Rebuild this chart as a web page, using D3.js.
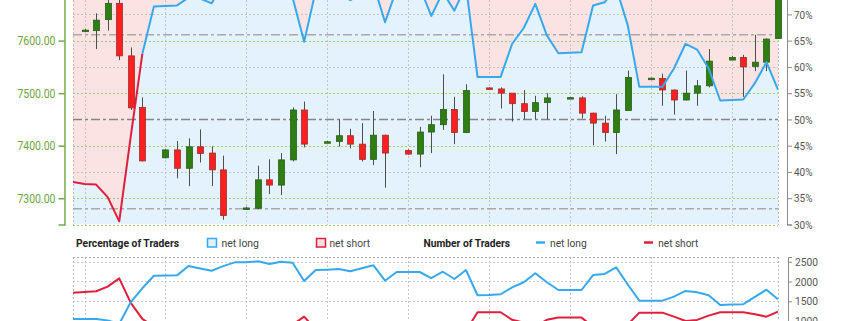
<!DOCTYPE html>
<html><head><meta charset="utf-8">
<script src="https://cdn.jsdelivr.net/npm/d3@7"></script>
<style>html,body{margin:0;padding:0;background:#fff;overflow:hidden}svg{display:block}</style>
</head><body><svg id="c" width="845" height="321"></svg>
<script>
// ---------- data (one entry per daily slot, null = no candle) ----------
const slots = d3.range(62);
const candleOpen  = [null,7619,7619,7640,7671,7571,7473,null,7377,7392,7357,7398,7386,7354,null,7281,7281,7335,7325,7373,7468,null,7407,7408,7419,7403,7374,7420,null,7391,7384,7426,7440,7469,7425,null,7510,7508,7500,7480,7465,7482,null,7491,7491,7462,7443,7425,7467,null,7528,7528,7506,7487,7500,7514,null,7563,7568,7551,7559,7604];
const candleHigh  = [null,7622,7652,7685,7690,7587,7492,null,7393,7409,7414,7431,7399,7381,null,7284,7362,7374,7386,7473,7484,null,7409,7450,7432,7443,7466,7421,null,7393,7436,7457,7536,7493,7517,null,7511,7511,7500,7506,7495,7500,null,7492,7494,7463,7457,7498,7543,null,7529.5,7537,7507,7543,7525,7584,null,7571,7573,7611,7604,7720];
const candleLow   = [null,7617,7584,7619,7563,7468,7370,null,7376,7338,7323,7368,7323,7259,null,7278,7279,7308,7306,7370,7397,null,7405,7398,7395,7370,7363,7320,null,7383,7359,7386,7430,7403,7424,null,7507,7471,7446,7450,7450,7450,null,7490,7452,7401,7408,7384,7466,null,7527,7476,7459,7486,7476,7511,null,7563,7493,7542,7542,7603];
const candleClose = [null,7620,7639,7671,7571,7472,7371,null,7392,7357,7398,7385,7354,7267,null,7281.5,7335,7325,7373,7468,7403,null,7407.5,7419,7403,7374,7420,7386,null,7384,7426,7440,7469,7425,7505,null,7508,7500,7480,7465,7482,7491,null,7491.5,7462,7443,7425,7468,7530,null,7528.5,7506,7487,7500,7514,7561,null,7568,7550,7559,7603,7700];

// percentage of traders net long (top line)
const netLongPct = [38.1,37.7,37.6,35.2,30.6,46.8,62.5,71.5,71.6,71.7,73.2,73.0,72.1,76.0,75.5,75.5,76.0,75.0,76.0,73.2,64.8,74.5,74.0,74.0,72.7,74.0,75.7,68.5,74.8,73.5,75.2,69.7,74.2,70.7,75.5,58.1,58.1,58.1,64.4,67.4,72.0,66.0,62.6,62.7,62.8,71.7,72.3,75.1,67.9,56.2,56.2,56.2,59.7,64.4,63.3,59.7,53.6,53.7,53.8,56.9,60.9,55.7];
const redSegmentsUntil = 6; // line drawn red up to this slot

// number of traders
const longCount  = [1053,1050,1050,1015,926,1480,1828,2146,2150,2155,2391,2330,2273,2390,2485,2485,2510,2442,2500,2475,2013,2290,2300,2316,2258,2335,2409,2020,2240,2240,2240,2088,2247,2063,2290,1651,1660,1677,1853,1980,2207,1980,1785,1785,1785,2164,2190,2358,1925,1515,1515,1515,1616,1760,1727,1651,1407,1415,1425,1610,1793,1550];
const shortCount = [1717,1735,1752,1869,2080,1460,1053,855,853,850,885,862,880,755,806,806,793,814,790,906,1110,784,808,814,848,820,773,929,755,808,739,908,780,855,743,1222,1222,1222,1030,958,858,1030,1086,1086,1086,854,839,782,910,1212,1212,1212,1110,1000,1028,1136,1222,1222,1222,1172,1110,1237];

const priceTicks = [7300,7400,7500,7600];
const priceGrid  = [7250,7300,7400,7500,7600,7700];
const pctTicks   = [30,35,40,45,50,55,60,65,70];
const pctGrid    = [40,60,70,80];
const levelLines = [7611,7280];
const weekSlots  = [1,8,15,22,29,36,43,50,57];
const countTicks = [1000,1500,2000,2500];

// ---------- layout ----------
const svg = d3.select('#c');
const X0 = 73, X1 = 778;
const x = d3.scaleLinear().domain([0,61]).range([X0,X1]);
const yP = d3.scaleLinear().domain([7250,7750]).range([224.5,-38.17]);
const yPct = d3.scaleLinear().domain([30,80]).range([224.5,-38.17]);
const yN = d3.scaleLinear().domain([1000,2620]).range([321,257]);
const FONT = 'Roboto, "Liberation Sans", sans-serif';

const defs = svg.append('defs');
defs.append('clipPath').attr('id','clipTop').append('rect').attr('x',X0).attr('y',-80).attr('width',X1-X0).attr('height',224.5+80);
defs.append('clipPath').attr('id','clipBot').append('rect').attr('x',X0).attr('y',257).attr('width',X1-X0).attr('height',200);

// ---------- top panel ----------
const topG = svg.append('g');
const pctPts = slots.map(i=>({i, v:netLongPct[i]}));
topG.append('path').datum(pctPts)
  .attr('d', d3.area().x(d=>x(d.i)).y0(-80).y1(d=>yPct(d.v)))
  .attr('fill','#fce3e3').attr('clip-path','url(#clipTop)');
topG.append('path').datum(pctPts)
  .attr('d', d3.area().x(d=>x(d.i)).y0(224.5).y1(d=>yPct(d.v)))
  .attr('fill','#e3f2fc').attr('clip-path','url(#clipTop)');

const grid = topG.append('g').attr('shape-rendering','crispEdges');
grid.selectAll('.vg').data(weekSlots).join('line')
  .attr('x1',d=>Math.round(x(d))+0.5).attr('x2',d=>Math.round(x(d))+0.5)
  .attr('y1',-80).attr('y2',224.5)
  .attr('stroke','#c4c4c4').attr('stroke-dasharray','2,2');
grid.selectAll('.bd').data([X0,X1]).join('line')
  .attr('x1',d=>d+0.5).attr('x2',d=>d+0.5).attr('y1',-80).attr('y2',224.5)
  .attr('stroke','#bdbdbd').attr('stroke-dasharray','2,2');
grid.selectAll('.pg').data(pctGrid).join('line')
  .attr('x1',X0).attr('x2',X1).attr('y1',d=>Math.round(yPct(d))+0.5).attr('y2',d=>Math.round(yPct(d))+0.5)
  .attr('stroke','#c4c4c4').attr('stroke-dasharray','2,2');
grid.selectAll('.gg').data(priceGrid).join('line')
  .attr('x1',X0).attr('x2',X1).attr('y1',d=>Math.round(yP(d))+0.5).attr('y2',d=>Math.round(yP(d))+0.5)
  .attr('stroke','#9fcd7f').attr('stroke-dasharray','2,2');
topG.selectAll('.lv').data(levelLines).join('line')
  .attr('x1',X0).attr('x2',X1).attr('y1',d=>yP(d)).attr('y2',d=>yP(d))
  .attr('stroke','#a9a9a9').attr('stroke-width',1.5).attr('stroke-dasharray','9,3,3,3');
topG.append('line').attr('x1',X0).attr('x2',X1).attr('y1',yPct(50)).attr('y2',yPct(50))
  .attr('stroke','#858585').attr('stroke-width',1.6).attr('stroke-dasharray','9,3,3,3');

// candles
const cdata = slots.filter(i=>candleOpen[i]!=null).map(i=>({i,o:candleOpen[i],h:candleHigh[i],l:candleLow[i],c:candleClose[i]}));
const cg = topG.append('g');
cg.selectAll('.wick').data(cdata).join('line')
  .attr('x1',d=>Math.round(x(d.i))+0.5).attr('x2',d=>Math.round(x(d.i))+0.5)
  .attr('y1',d=>yP(d.h)).attr('y2',d=>yP(d.l))
  .attr('stroke','#4d4d4d').attr('stroke-width',1);
cg.selectAll('.body').data(cdata).join('rect')
  .attr('x',d=>Math.round(x(d.i))-2.5).attr('width',6)
  .attr('y',d=>yP(Math.max(d.o,d.c)))
  .attr('height',d=>Math.max(1.5, Math.abs(yP(d.o)-yP(d.c))))
  .attr('fill',d=>d.c>=d.o?'#2f7e14':'#ff1f1f')
  .attr('stroke',d=>d.c>=d.o?'#2a5f18':'#9a3030').attr('stroke-width',0.8);

// sentiment line
const line = d3.line().x(d=>x(d.i)).y(d=>yPct(d.v));
topG.append('path').datum(pctPts.slice(redSegmentsUntil))
  .attr('d',line).attr('fill','none').attr('stroke','#36a9ee').attr('stroke-width',2)
  .attr('stroke-linejoin','round').attr('clip-path','url(#clipTop)');
topG.append('path').datum(pctPts.slice(0,redSegmentsUntil+1))
  .attr('d',line).attr('fill','none').attr('stroke','#df1f3c').attr('stroke-width',2)
  .attr('stroke-linejoin','round').attr('clip-path','url(#clipTop)');

// axes
const la = svg.append('g').attr('transform','translate(64.5,0)')
  .call(d3.axisLeft(yP).tickValues(priceTicks).tickFormat(d=>d.toFixed(2)).tickSize(6).tickSizeOuter(6).tickPadding(3));
la.select('.domain').attr('stroke','#72aa48').attr('stroke-width',1.5);
la.selectAll('.tick line').attr('stroke','#72aa48').attr('stroke-width',1.5);
la.selectAll('.tick text').attr('fill','#6ea544').attr('font-family',FONT).attr('font-size',12.5)
  .attr('textLength',38).attr('lengthAdjust','spacingAndGlyphs');

const ra = svg.append('g').attr('transform','translate(787,0)')
  .call(d3.axisRight(yPct).tickValues(pctTicks).tickFormat(d=>d+'%').tickSize(5).tickSizeOuter(5).tickPadding(2));
ra.select('.domain').attr('stroke','#8a8a8a');
ra.selectAll('.tick line').attr('stroke','#8a8a8a');
ra.selectAll('.tick text').attr('fill','#555').attr('font-family',FONT).attr('font-size',11.5)
  .attr('textLength',18.5).attr('lengthAdjust','spacingAndGlyphs');

// ---------- legend ----------
const lg = svg.append('g').attr('font-family',FONT);
function txt(t,xx,len,bold){
  lg.append('text').attr('x',xx).attr('y',246.5).text(t)
    .attr('font-size',11.5).attr('font-weight',bold?'bold':'normal').attr('fill',bold?'#222':'#444')
    .attr('textLength',len).attr('lengthAdjust','spacingAndGlyphs');
}
txt('Percentage of Traders',76,103,true);
lg.append('rect').attr('x',207.5).attr('y',238.5).attr('width',9).attr('height',8.5).attr('fill','#dff1fc').attr('stroke','#36a9ee').attr('stroke-width',1.5);
txt('net long',221.5,37.5,false);
lg.append('rect').attr('x',316.5).attr('y',238.5).attr('width',9).attr('height',8.5).attr('fill','#fce0e0').attr('stroke','#df1f3c').attr('stroke-width',1.5);
txt('net short',329.5,40.5,false);
txt('Number of Traders',423.5,86.5,true);
lg.append('line').attr('x1',536).attr('x2',545).attr('y1',242.5).attr('y2',242.5).attr('stroke','#36a9ee').attr('stroke-width',2.5);
txt('net long',550,36.7,false);
lg.append('line').attr('x1',644).attr('x2',653).attr('y1',242.5).attr('y2',242.5).attr('stroke','#df1f3c').attr('stroke-width',2.5);
txt('net short',658.3,40,false);

// ---------- lower panel ----------
const bot = svg.append('g');
const bgrid = bot.append('g').attr('shape-rendering','crispEdges');
bgrid.selectAll('.v').data(weekSlots).join('line')
  .attr('x1',d=>Math.round(x(d))+0.5).attr('x2',d=>Math.round(x(d))+0.5).attr('y1',257).attr('y2',330)
  .attr('stroke','#c4c4c4').attr('stroke-dasharray','2,2');
bgrid.selectAll('.b').data([X0,X1]).join('line')
  .attr('x1',d=>d+0.5).attr('x2',d=>d+0.5).attr('y1',257).attr('y2',330)
  .attr('stroke','#bdbdbd').attr('stroke-dasharray','2,2');
bgrid.selectAll('.h').data(countTicks).join('line')
  .attr('x1',X0).attr('x2',X1).attr('y1',d=>Math.round(yN(d))+0.5).attr('y2',d=>Math.round(yN(d))+0.5)
  .attr('stroke','#cccccc').attr('stroke-dasharray','2,2');
bgrid.append('line').attr('x1',X0).attr('x2',X1).attr('y1',257.5).attr('y2',257.5)
  .attr('stroke','#aaaaaa').attr('stroke-dasharray','2,2');

const nline = d3.line().x(d=>x(d.i)).y(d=>yN(d.v));
bot.append('path').datum(slots.map(i=>({i,v:shortCount[i]})))
  .attr('d',nline).attr('fill','none').attr('stroke','#df1f3c').attr('stroke-width',2)
  .attr('stroke-linejoin','round').attr('clip-path','url(#clipBot)');
bot.append('path').datum(slots.map(i=>({i,v:longCount[i]})))
  .attr('d',nline).attr('fill','none').attr('stroke','#36a9ee').attr('stroke-width',2)
  .attr('stroke-linejoin','round').attr('clip-path','url(#clipBot)');

const rb = svg.append('g').attr('transform','translate(788,0)')
  .call(d3.axisRight(yN).tickValues(countTicks).tickFormat(d3.format('d')).tickSize(4).tickSizeOuter(4).tickPadding(3));
rb.select('.domain').attr('stroke','#8a8a8a');
rb.selectAll('.tick line').attr('stroke','#8a8a8a');
rb.selectAll('.tick text').attr('fill','#555').attr('font-family',FONT).attr('font-size',11.5)
  .attr('textLength',23).attr('lengthAdjust','spacingAndGlyphs');
</script></body></html>
